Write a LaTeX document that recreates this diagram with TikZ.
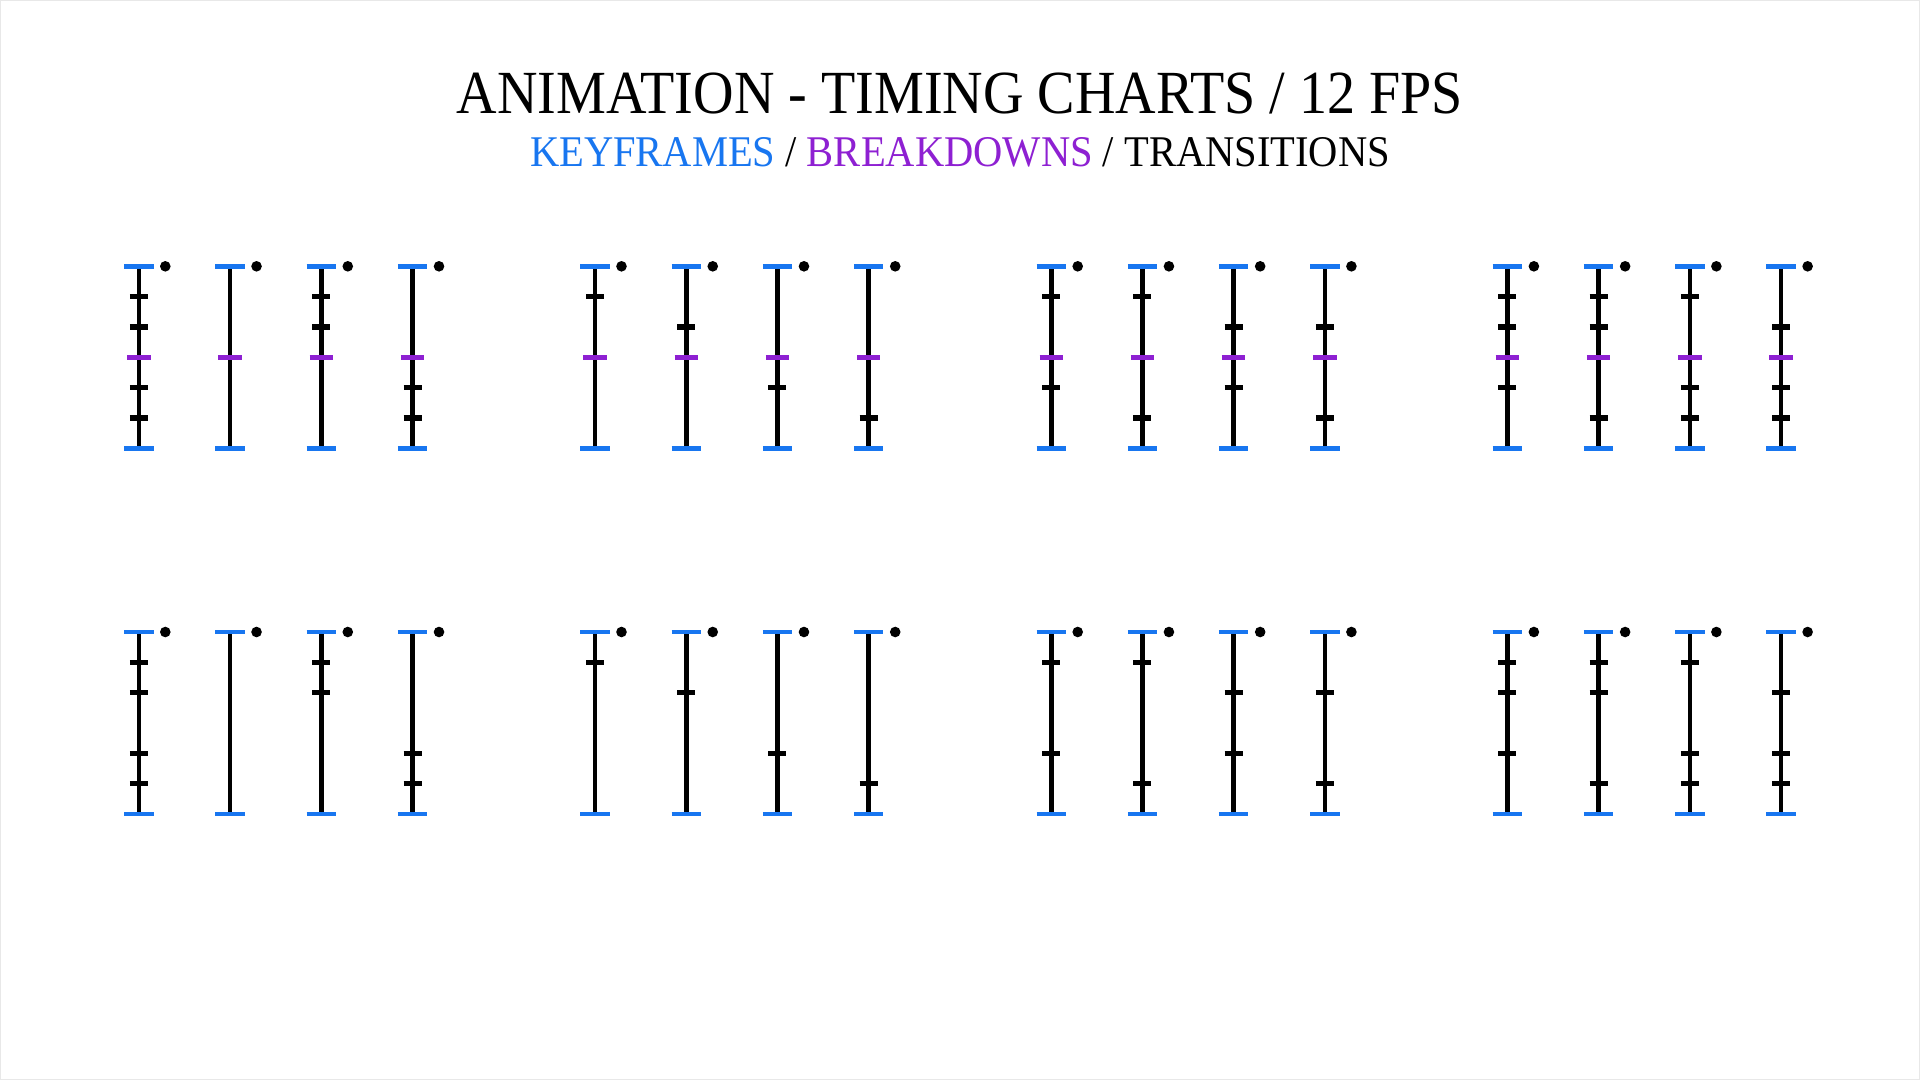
\documentclass[tikz,border=0pt]{standalone}
\usepackage{graphicx}
\usepackage{fontspec}
\setmainfont{Liberation Serif}
\definecolor{keyblue}{RGB}{24,118,240}
\definecolor{bdpurple}{RGB}{142,32,210}
\definecolor{frameline}{RGB}{232,232,232}
\begin{document}
\begin{tikzpicture}[x=1pt,y=-1pt,
  stem/.style={line width=4.6pt, black},
  keybar/.style={line width=4.7pt, keyblue},
  bdbar/.style={line width=4.7pt, bdpurple},
  trbar/.style={line width=5.2pt, black},
  spacingdot/.style={fill=black}]
\fill[white] (0,0) rectangle (1920,1080);
\draw[line width=1.2pt, frameline] (0.6,0.6) rectangle (1919.4,1079.4);
\useasboundingbox (0,0) rectangle (1920,1080);

\node[anchor=base, inner sep=0] (title) at (960,113.3)
  {\fontsize{61.3}{70}\selectfont\scalebox{0.915}[1]{ANIMATION - TIMING CHARTS / 12 FPS}};
\node[anchor=base, inner sep=0] (subtitle) at (960,166)
  {\fontsize{43.8}{50}\selectfont\scalebox{0.925}[1]{\textcolor{keyblue}{KEYFRAMES} / \textcolor{bdpurple}{BREAKDOWNS} / TRANSITIONS}};

\foreach \row/\ytop in {1/266.3, 2/632} {
  % stems, keyframe bars and spacing dots
  \foreach \k in {0,1,2,3,5,6,7,8,10,11,12,13,15,16,17,18} {
    \pgfmathsetmacro\xx{138.8+91.24*\k}
    \coordinate (t\row-\k) at (\xx,\ytop);
    \coordinate (b\row-\k) at (\xx,\ytop+182);
    \draw[stem] (t\row-\k) -- (b\row-\k);
    \draw[keybar] (\xx-14.7,\ytop) -- (\xx+14.7,\ytop);
    \draw[keybar] (\xx-14.7,\ytop+182) -- (\xx+14.7,\ytop+182);
    \fill[spacingdot] (\xx+26.5,\ytop) circle (5.3);
  }
  % transition ticks
  \foreach \k/\t in {0/1,0/2,0/4,0/5, 2/1,2/2, 3/4,3/5,
                     5/1, 6/2, 7/4, 8/5,
                     10/1,10/4, 11/1,11/5, 12/2,12/4, 13/2,13/5,
                     15/1,15/2,15/4, 16/1,16/2,16/5, 17/1,17/4,17/5, 18/2,18/4,18/5} {
    \pgfmathsetmacro\xx{138.8+91.24*\k}
    \pgfmathsetmacro\yy{\ytop+30.33*\t}
    \draw[trbar] (\xx-9,\yy) -- (\xx+9,\yy);
  }
}
% breakdown bars (first row only)
\foreach \k in {0,1,2,3,5,6,7,8,10,11,12,13,15,16,17,18} {
  \pgfmathsetmacro\xx{138.8+91.24*\k}
  \draw[bdbar] (\xx-11.7,357.3) -- (\xx+11.7,357.3);
}
\end{tikzpicture}
\end{document}
